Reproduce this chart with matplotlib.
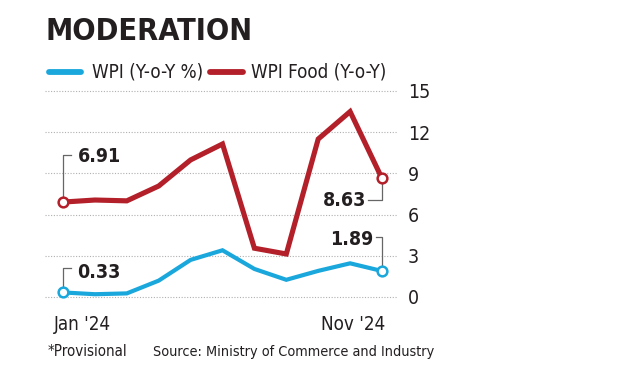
import matplotlib
matplotlib.use("Agg")
import matplotlib.pyplot as plt

months = ["Jan '24", "Feb", "Mar", "Apr", "May", "Jun", "Jul", "Aug", "Sep", "Oct", "Nov '24"]
wpi = [0.33, 0.20, 0.26, 1.19, 2.70, 3.40, 2.04, 1.25, 1.90, 2.45, 1.89]
wpi_food = [6.91, 7.06, 7.00, 8.08, 9.98, 11.14, 3.55, 3.13, 11.50, 13.50, 8.63]
yticks = [0, 3, 6, 9, 12, 15]

plt.rcParams["font.family"] = ["DejaVu Sans"]
plt.rcParams["font.stretch"] = "condensed"

blue = "#1aa7dc"
red = "#b3202a"
ink = "#231f20"

fig = plt.figure(figsize=(6.2, 3.67), dpi=100)
ax = fig.add_axes([45 / 620, 0.1796, 352 / 620, 0.5837])

x = list(range(len(months)))
ax.plot(x, wpi_food, color=red, lw=3.7, solid_joinstyle="miter", zorder=3)
ax.plot(x, wpi, color=blue, lw=3.0, solid_joinstyle="miter", zorder=3)
for s, c in [(wpi_food, red), (wpi, blue)]:
    ax.plot([x[0], x[-1]], [s[0], s[-1]], ls="none", marker="o", ms=7,
            mfc="white", mec=c, mew=1.8, zorder=4)

ax.set_xlim(-0.564, 10.47)
ax.set_ylim(-0.3, 15.3)
for t in yticks:
    ax.axhline(t, color="#b0b0b0", lw=0.8, ls=(0, (1, 1.5)), zorder=1)
ax.yaxis.tick_right()
ax.set_yticks(yticks)
ax.tick_params(axis="y", length=0, pad=8, labelsize=14, labelcolor=ink)
ax.set_xticks([])
ax.text(-0.28, -2.0, months[0], fontsize=13.5, color=ink, va="center", ha="left")
ax.text(10.1, -2.0, months[-1], fontsize=13.5, color=ink, va="center", ha="right")
for s in ax.spines.values():
    s.set_visible(False)

# leader lines and value labels
lk = dict(color="#666666", lw=0.9, zorder=2)
vk = dict(fontsize=14, fontweight="bold", color=ink, va="center")
ax.plot([0, 0, 0.25], [wpi_food[0], 10.34, 10.34], **lk)
ax.text(0.48, 10.2, f"{wpi_food[0]:.2f}", ha="left", **vk)
ax.plot([0, 0, 0.25], [wpi[0], 2.1, 2.1], **lk)
ax.text(0.43, 1.8, f"{wpi[0]:.2f}", ha="left", **vk)
ax.plot([10, 10, 9.55], [wpi_food[-1], 7.06, 7.06], **lk)
ax.text(9.5, 7.0, f"{wpi_food[-1]:.2f}", ha="right", **vk)
ax.plot([10, 10, 9.8], [wpi[-1], 4.37, 4.37], **lk)
ax.text(9.72, 4.2, f"{wpi[-1]:.2f}", ha="right", **vk)

fig.text(46 / 620, 1 - 31 / 367, "MODERATION", fontsize=22, fontweight="bold", color=ink, va="center", ha="left")

# legend
ly = 1 - 72 / 367
fig.add_artist(plt.Line2D([49 / 620, 81 / 620], [ly, ly], color=blue, lw=4.2, solid_capstyle="round"))
fig.text(92 / 620, ly, "WPI (Y-o-Y %)", fontsize=13.5, color=ink, va="center", ha="left")
fig.add_artist(plt.Line2D([210 / 620, 243 / 620], [ly, ly], color=red, lw=4.2, solid_capstyle="round"))
fig.text(251 / 620, ly, "WPI Food (Y-o-Y)", fontsize=13.5, color=ink, va="center", ha="left")

fig.text(48 / 620, 1 - 352 / 367, "*Provisional", fontsize=10.8, color=ink, va="center", ha="left")
fig.text(153 / 620, 1 - 352 / 367, "Source: Ministry of Commerce and Industry", fontsize=10.4, color=ink, va="center", ha="left")

fig.savefig("out.png", dpi=100, facecolor="white")
